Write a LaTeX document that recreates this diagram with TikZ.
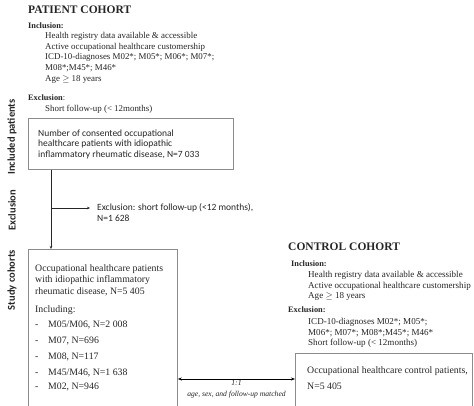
\documentclass[tikz,border=0pt]{standalone}
\usepackage{fontspec}
\setmainfont{Liberation Serif}
\newfontfamily\calfont{Carlito}
\usetikzlibrary{arrows.meta}
\definecolor{txt}{gray}{0.15}
\definecolor{boxline}{gray}{0.55}
\tikzset{
  ln/.style={anchor=base west, inner sep=0pt, text=txt},
  titlef/.style={ln, font=\fontsize{11.5}{14}\selectfont\bfseries},
  headf/.style={ln, font=\fontsize{8.3}{10}\selectfont\bfseries},
  itemf/.style={ln, font=\fontsize{8.9}{10}\selectfont},
  citemf/.style={ln, font=\fontsize{9.05}{10}\selectfont},
  boxf/.style={ln, font=\fontsize{9.8}{11}\selectfont},
  calf/.style={ln, font=\calfont\fontsize{9.5}{11}\selectfont},
  sidef/.style={inner sep=0pt, rotate=90, text=txt, font=\calfont\bfseries\fontsize{10.5}{12}\selectfont},
  boxr/.style={draw=boxline, line width=0.8pt, inner sep=0pt},
  conn/.style={draw=txt, line width=0.7pt, -{Stealth[length=3pt,width=2.5pt]}},
  dconn/.style={draw=black, line width=1pt, {Stealth[length=4pt,width=3pt]}-{Stealth[length=4pt,width=3pt]}},
  matchf/.style={anchor=base, inner sep=0pt, text=txt, font=\fontsize{7.6}{9}\selectfont\itshape},
}
\begin{document}
\begin{tikzpicture}[x=1pt,y=-1pt]
\useasboundingbox[fill=white] (0,0) rectangle (474,405);

% boxes
\node[boxr, minimum width=205pt, minimum height=51pt, anchor=north west] (box1) at (28,118) {};
\node[boxr, minimum width=149pt, minimum height=170pt, anchor=north west] (box2) at (28,249) {};
\node[boxr, minimum width=177pt, minimum height=70pt, anchor=north west] (box3) at (295,353) {};

% side labels
\node[sidef] (s1) at (12,137) {Included patients};
\node[sidef] (s2) at (12,210) {Exclusion};
\node[sidef] (s3) at (12,280) {Study cohorts};

% patient cohort
\node[titlef] (pt) at (28,13) {PATIENT COHORT};
\node[headf] (pinc) at (28,28) {Inclusion:};
\node[itemf] (pi1) at (45,38) {Health registry data available \& accessible};
\node[itemf] (pi2) at (45,49) {Active occupational healthcare customership};
\node[itemf] (pi3) at (45,59.5) {ICD-10-diagnoses M02*; M05*; M06*; M07*;};
\node[itemf] (pi4) at (45,70) {M08*;M45*; M46*};
\node[itemf] (pi5) at (45,81) {Age $\geq$ 18 years};
\node[headf] (pexc) at (28,100) {Exclusion\textmd{:}};
\node[itemf] (pe1) at (45,111) {Short follow-up (< 12months)};

% box 1 text
\node[calf] (b1a) at (38,136) {Number of consented occupational};
\node[calf] (b1b) at (38,146.5) {healthcare patients with idiopathic};
\node[calf] (b1c) at (38,157) {inflammatory rheumatic disease, N=7 033};

% exclusion
\node[calf] (ex1) at (97,210.5) {Exclusion: short follow-up (<12 months),};
\node[calf] (ex2) at (97,221) {N=1 628};
\coordinate (vx) at (51,0);
\coordinate (br) at (51,208);
\draw[conn] (vx |- box1.south) -- (vx |- box2.north);
\draw[conn] (br) -- (90,208) coordinate (brend);

% box 2 text
\node[boxf] (b2a) at (35,271) {Occupational healthcare patients};
\node[boxf] (b2b) at (35,282) {with idiopathic inflammatory};
\node[boxf] (b2c) at (35,294) {rheumatic disease, N=5 405};
\node[boxf] (b2d) at (35,312) {Including:};
\foreach \y/\t [count=\i] in {327/{M05/M06, N=2 008},343/{M07, N=696},359/{M08, N=117},375/{M45/M46, N=1 638},389/{M02, N=946}}{
  \node[boxf] (d\i) at (35,\y) {-};
  \node[boxf] (m\i) at (48,\y) {\t};
}

% control cohort
\node[titlef] (ct) at (288,250) {CONTROL COHORT};
\node[headf] (cinc) at (291,266) {Inclusion:};
\node[citemf] (ci1) at (308,277) {Health registry data available \& accessible};
\node[citemf] (ci2) at (308,288) {Active occupational healthcare customership};
\node[citemf] (ci3) at (308,298) {Age $\geq$ 18 years};
\node[headf] (cexc) at (288,312.5) {Exclusion:};
\node[citemf] (ce1) at (308,324) {ICD-10-diagnoses M02*; M05*;};
\node[citemf] (ce2) at (308,335) {M06*; M07*; M08*;M45*; M46*};
\node[citemf] (ce3) at (308,345.5) {Short follow-up (< 12months)};

% box 3 text
\node[boxf] (b3a) at (307,373) {Occupational healthcare control patients,};
\node[boxf] (b3b) at (307,389) {N=5 405};

% matching arrow
\coordinate (my) at (0,379);
\draw[dconn] (box2.east |- my) -- (box3.west |- my);
\node[matchf] (mt1) at (236.5,385.5) {1:1};
\node[matchf] (mt2) at (236.5,396) {age, sex, and follow-up matched};
\end{tikzpicture}
\end{document}
